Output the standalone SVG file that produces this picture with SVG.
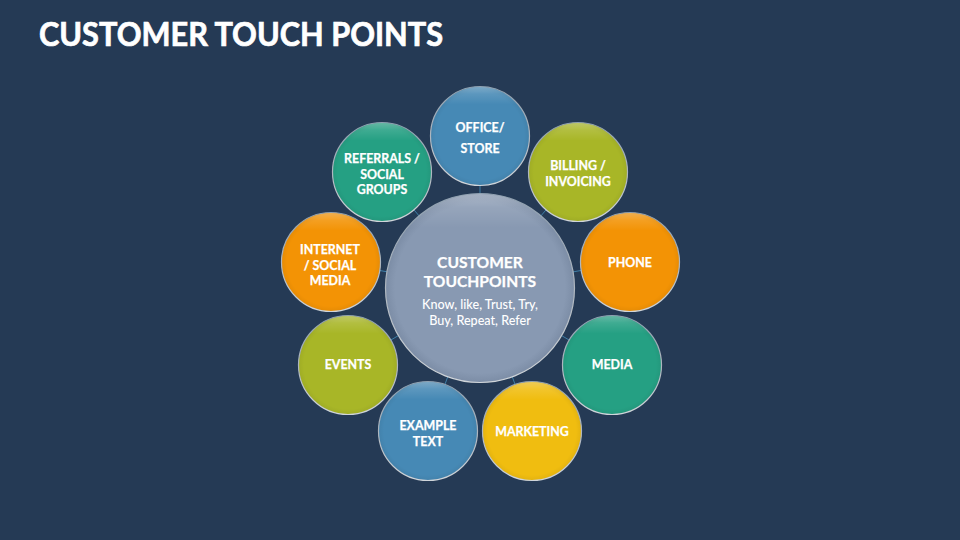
<svg xmlns="http://www.w3.org/2000/svg" width="960" height="540" viewBox="0 0 960 540">
<style>
.bg{fill:#253a55}
.ring{stroke:url(#edge);stroke-width:1.2}
.shade{fill:url(#rim)}
.top{fill:url(#gloss)}
.lbl{font-family:"Lato","Liberation Sans",sans-serif;font-weight:700;font-size:12.4px;fill:#fff;stroke:#fff;stroke-width:.25;text-anchor:middle}
.hd{font-size:15.6px}
.sub{font-weight:500;font-size:12.6px;stroke-width:0}
.title{font-family:"Lato","Liberation Sans",sans-serif;font-weight:700;font-size:32px;fill:#fff;stroke:#fff;stroke-width:.7}
#connectors line{stroke:#3f7fa8;stroke-width:1}
</style>
<defs>
<linearGradient id="edge" x1="0" y1="0" x2="0" y2="1">
<stop offset="0" stop-color="#8fa0b0"/>
<stop offset="0.5" stop-color="#aeb6bf"/>
<stop offset="1" stop-color="#d0d5da"/>
</linearGradient>
<radialGradient id="rim" cx="0.5" cy="0.5" r="0.5">
<stop offset="0.9" stop-color="#000" stop-opacity="0"/>
<stop offset="1" stop-color="#000" stop-opacity="0.05"/>
</radialGradient>
<linearGradient id="gloss" x1="0" y1="0" x2="0" y2="1">
<stop offset="0" stop-color="#fff" stop-opacity="0.3"/>
<stop offset="0.07" stop-color="#fff" stop-opacity="0.12"/>
<stop offset="0.18" stop-color="#fff" stop-opacity="0"/>
</linearGradient>
<radialGradient id="cen" cx="0.5" cy="0.5" r="0.5">
<stop offset="0.9" stop-color="#8899b2"/>
<stop offset="1" stop-color="#7c8da6"/>
</radialGradient>
</defs>
<rect class="bg" width="960" height="540"/>
<text class="title" x="39" y="46" textLength="404" lengthAdjust="spacingAndGlyphs">CUSTOMER TOUCH POINTS</text>
<g id="connectors">
<line x1="480" y1="288" x2="480" y2="136"/>
<line x1="480" y1="288" x2="382" y2="172"/>
<line x1="480" y1="288" x2="578" y2="172"/>
<line x1="480" y1="288" x2="630" y2="262"/>
<line x1="480" y1="288" x2="612" y2="365"/>
<line x1="480" y1="288" x2="532" y2="431"/>
<line x1="480" y1="288" x2="428" y2="431"/>
<line x1="480" y1="288" x2="348" y2="365"/>
<line x1="480" y1="288" x2="331" y2="262"/>
</g>
<g id="node-office">
<circle class="ring" cx="480" cy="136" r="49.5" fill="#4689b5"/><circle class="shade" cx="480" cy="136" r="49"/><circle class="top" cx="480" cy="136" r="49"/>
<text class="lbl" x="480" y="132">OFFICE/</text><text class="lbl" x="480" y="153">STORE</text>
</g>
<g id="node-referrals">
<circle class="ring" cx="382" cy="172" r="49.5" fill="#25a083"/><circle class="shade" cx="382" cy="172" r="49"/><circle class="top" cx="382" cy="172" r="49"/>
<text class="lbl" x="382" y="163">REFERRALS /</text><text class="lbl" x="382" y="179">SOCIAL</text><text class="lbl" x="382" y="194">GROUPS</text>
</g>
<g id="node-billing">
<circle class="ring" cx="578" cy="172" r="49.5" fill="#a8b627"/><circle class="shade" cx="578" cy="172" r="49"/><circle class="top" cx="578" cy="172" r="49"/>
<text class="lbl" x="578" y="170">BILLING /</text><text class="lbl" x="578" y="186">INVOICING</text>
</g>
<g id="node-phone">
<circle class="ring" cx="630" cy="262" r="49.5" fill="#f39305"/><circle class="shade" cx="630" cy="262" r="49"/><circle class="top" cx="630" cy="262" r="49"/>
<text class="lbl" x="630" y="267">PHONE</text>
</g>
<g id="node-media">
<circle class="ring" cx="612" cy="365" r="49.5" fill="#25a083"/><circle class="shade" cx="612" cy="365" r="49"/><circle class="top" cx="612" cy="365" r="49"/>
<text class="lbl" x="612" y="369">MEDIA</text>
</g>
<g id="node-marketing">
<circle class="ring" cx="532" cy="431" r="49.5" fill="#f0bd10"/><circle class="shade" cx="532" cy="431" r="49"/><circle class="top" cx="532" cy="431" r="49"/>
<text class="lbl" x="532" y="436">MARKETING</text>
</g>
<g id="node-example">
<circle class="ring" cx="428" cy="431" r="49.5" fill="#4689b5"/><circle class="shade" cx="428" cy="431" r="49"/><circle class="top" cx="428" cy="431" r="49"/>
<text class="lbl" x="428" y="430">EXAMPLE</text><text class="lbl" x="428" y="446">TEXT</text>
</g>
<g id="node-events">
<circle class="ring" cx="348" cy="365" r="49.5" fill="#a8b627"/><circle class="shade" cx="348" cy="365" r="49"/><circle class="top" cx="348" cy="365" r="49"/>
<text class="lbl" x="348" y="369">EVENTS</text>
</g>
<g id="node-internet">
<circle class="ring" cx="331" cy="262" r="49.5" fill="#f39305"/><circle class="shade" cx="331" cy="262" r="49"/><circle class="top" cx="331" cy="262" r="49"/>
<text class="lbl" x="330" y="254">INTERNET</text><text class="lbl" x="330" y="270">/ SOCIAL</text><text class="lbl" x="330" y="285">MEDIA</text>
</g>
<g id="node-center">
<circle class="ring" cx="480" cy="288" r="94.5" fill="url(#cen)"/><circle class="top" cx="480" cy="288" r="94"/>
<text class="lbl hd" x="480" y="268">CUSTOMER</text><text class="lbl hd" x="480" y="287">TOUCHPOINTS</text>
<text class="lbl sub" x="480" y="309">Know, like, Trust, Try,</text><text class="lbl sub" x="480" y="325">Buy, Repeat, Refer</text>
</g>
</svg>
